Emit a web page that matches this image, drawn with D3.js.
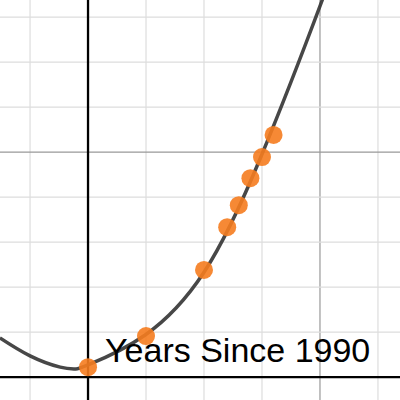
<!DOCTYPE html>
<html><head><meta charset="utf-8">
<script src="https://cdn.jsdelivr.net/npm/d3@7"></script>
<style>body{margin:0;background:#fff}</style>
</head><body><div id="chart"></div>
<script>
// data (x: years since 1990)
var pointX = [0, 5, 10, 12, 13, 14, 15, 16];
var pointY = [0.22, 0.91, 2.38, 3.33, 3.82, 4.42, 4.89, 5.38];
var curveX = [-7.6, -5.0, -2.4, -1.1, 0, 4.9, 10, 14.9, 20.2, 20.9];
var curveY = [0.87, 0.47, 0.22, 0.18, 0.27, 0.93, 2.33, 4.89, 8.38, 8.93];
var xMinor = d3.range(-5, 30, 5);
var yMinor = d3.range(-1, 10, 1);

var width = 400, height = 400;
var svg = d3.select("#chart").append("svg").attr("width", width).attr("height", height);

var x = d3.scaleLinear().domain([-7.59, 26.9]).range([0, width]);
var y = d3.scaleLinear().domain([-0.51, 8.38]).range([height, 0]);

// grid
svg.selectAll(".gx").data(xMinor).enter().append("line")
  .attr("x1", d => x(d)).attr("x2", d => x(d)).attr("y1", 0).attr("y2", height)
  .attr("stroke", d => d % 20 === 0 ? "#999" : "#ddd").attr("stroke-width", 1.2);
svg.selectAll(".gy").data(yMinor).enter().append("line")
  .attr("y1", d => y(d)).attr("y2", d => y(d)).attr("x1", 0).attr("x2", width)
  .attr("stroke", d => d % 5 === 0 ? "#999" : "#ddd").attr("stroke-width", 1.2);

// axes
svg.append("line").attr("x1", x(0)).attr("x2", x(0)).attr("y1", 0).attr("y2", height)
  .attr("stroke", "#000").attr("stroke-width", 2.3);
svg.append("line").attr("y1", y(0)).attr("y2", y(0)).attr("x1", 0).attr("x2", width)
  .attr("stroke", "#000").attr("stroke-width", 2.3);

// curve
var line = d3.line().x(d => x(d[0])).y(d => y(d[1])).curve(d3.curveNatural);
svg.append("path").datum(d3.zip(curveX, curveY)).attr("d", line)
  .attr("fill", "none").attr("stroke", "#333").attr("stroke-opacity", 0.9).attr("stroke-width", 3.5);

// points
svg.selectAll("circle").data(d3.zip(pointX, pointY)).enter().append("circle")
  .attr("cx", d => x(d[0])).attr("cy", d => y(d[1])).attr("r", 9)
  .attr("fill", "#f57c1f").attr("opacity", 0.9);

svg.append("text").attr("x", 105).attr("y", 362)
  .attr("font-family", "Liberation Sans, Arial, sans-serif").attr("font-size", 34)
  .attr("fill", "#000").text("Years Since 1990");
</script></body></html>
